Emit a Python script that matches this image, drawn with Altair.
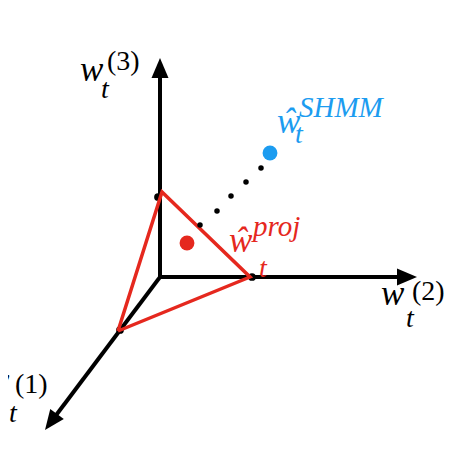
import math
import altair as alt
import pandas as pd

# Geometry, in picture pixels (y grows downward)
origin_x, origin_y = 160, 277
axis_names = ["w1", "w2", "w3"]
axis_tip_x = [45, 417, 160]
axis_tip_y = [430, 277, 58]

# simplex corners (one on each axis) and the small black dots there
simplex_x = [118, 250, 162]
simplex_y = [331, 277, 192]
corner_dot_x = [120, 252, 158]
corner_dot_y = [330, 277, 197]

proj_x, proj_y = 187, 243
shmm_x, shmm_y = 270, 153

dotted_x = [200, 217, 231, 246, 261]
dotted_y = [225, 211, 196, 182, 168]

# label pieces: text, left x, baseline y, font size, colour, italic
label_text = ["w", "(3)", "t", "w", "(2)", "t", "w", "(1)", "t",
              "\u0175", "SHMM", "t", "\u0175", "proj", "t"]
label_x = [80, 107, 101, 381, 412, 406, -14, 15, 9,
           277, 299, 295, 229, 253, 259]
label_y = [81, 70, 98, 305, 300, 327, 392, 393, 422,
           133, 117, 143, 252, 236, 277]
label_size = [35, 28, 28, 35, 28, 28, 35, 28, 28,
              35, 29, 28, 35, 29, 28]
label_kind = ["axis", "axis", "axis", "axis", "axis", "axis", "axis", "axis", "axis",
              "shmm", "shmm", "shmm", "proj", "proj", "proj"]
label_italic = [True, False, True, True, False, True, True, False, True,
                True, True, True, True, True, True]

RED = "#e5281e"
BLUE = "#1c9cf0"
colours = {"axis": "black", "shmm": BLUE, "proj": RED}
SERIF = "Liberation Serif"

HEAD = 20  # arrow head length

axis_rows, head_rows = [], []
for name, tx, ty in zip(axis_names, axis_tip_x, axis_tip_y):
    dx, dy = tx - origin_x, ty - origin_y
    n = math.hypot(dx, dy)
    ux, uy = dx / n, dy / n
    axis_rows.append({"axis": name, "o": 0, "x": origin_x, "y": origin_y})
    axis_rows.append({"axis": name, "o": 1, "x": tx - 16 * ux, "y": ty - 16 * uy})
    ang = math.degrees(math.atan2(ux, -uy)) % 360
    head_rows.append({"axis": name, "x": tx - HEAD / 2 * ux, "y": ty - HEAD / 2 * uy, "angle": ang})

axes_df = pd.DataFrame(axis_rows)
heads_df = pd.DataFrame(head_rows)
tri_df = pd.DataFrame({"o": [0, 1, 2, 3],
                       "x": simplex_x + simplex_x[:1],
                       "y": simplex_y + simplex_y[:1]})
corner_df = pd.DataFrame({"x": corner_dot_x, "y": corner_dot_y})
dots_df = pd.DataFrame({"x": dotted_x, "y": dotted_y})
proj_df = pd.DataFrame({"x": [proj_x], "y": [proj_y]})
shmm_df = pd.DataFrame({"x": [shmm_x], "y": [shmm_y]})
labels_df = pd.DataFrame({"text": label_text, "x": label_x, "y": label_y,
                          "size": label_size, "italic": label_italic,
                          "colour": [colours[k] for k in label_kind]})

xs = alt.Scale(domain=[8, 466], nice=False, zero=False)
ys = alt.Scale(domain=[8, 466], nice=False, zero=False, reverse=True)
X = alt.X("x:Q", scale=xs, axis=None)
Y = alt.Y("y:Q", scale=ys, axis=None)

axes = alt.Chart(axes_df).mark_line(color="black", strokeWidth=4, strokeCap="square").encode(
    X, Y, detail="axis:N", order="o:Q")

heads = alt.Chart(heads_df).mark_point(
    shape="M0,-1L0.85,1L-0.85,1Z", filled=True, opacity=1, color="black", size=HEAD * HEAD
).encode(X, Y, angle=alt.Angle("angle:Q", scale=None))

corners = alt.Chart(corner_df).mark_circle(color="black", size=60, opacity=1).encode(X, Y)

triangle = alt.Chart(tri_df).mark_line(color=RED, strokeWidth=3.5, strokeJoin="miter").encode(
    X, Y, order="o:Q")

dots = alt.Chart(dots_df).mark_circle(color="black", size=30, opacity=1).encode(X, Y)
proj = alt.Chart(proj_df).mark_circle(color=RED, size=220, opacity=1).encode(X, Y)
shmm = alt.Chart(shmm_df).mark_circle(color=BLUE, size=220, opacity=1).encode(X, Y)


def text_layer(size, italic):
    sub = labels_df[(labels_df["size"] == size) & (labels_df["italic"] == italic)]
    style = {"fontStyle": "italic"} if italic else {}
    return alt.Chart(sub).mark_text(
        font=SERIF, fontSize=size, align="left", baseline="alphabetic", **style
    ).encode(X, Y, text="text:N", color=alt.Color("colour:N", scale=None))


texts = [text_layer(s, it) for s, it in
         sorted(set(zip(label_size, label_italic)))]

chart = alt.layer(axes, heads, corners, triangle, dots, proj, shmm, *texts).properties(
    width=458, height=458, padding=0, autosize=alt.AutoSizeParams(type="none")
).configure_view(stroke=None)

chart.save("out.html", embed_options={"renderer": "svg", "actions": False})
